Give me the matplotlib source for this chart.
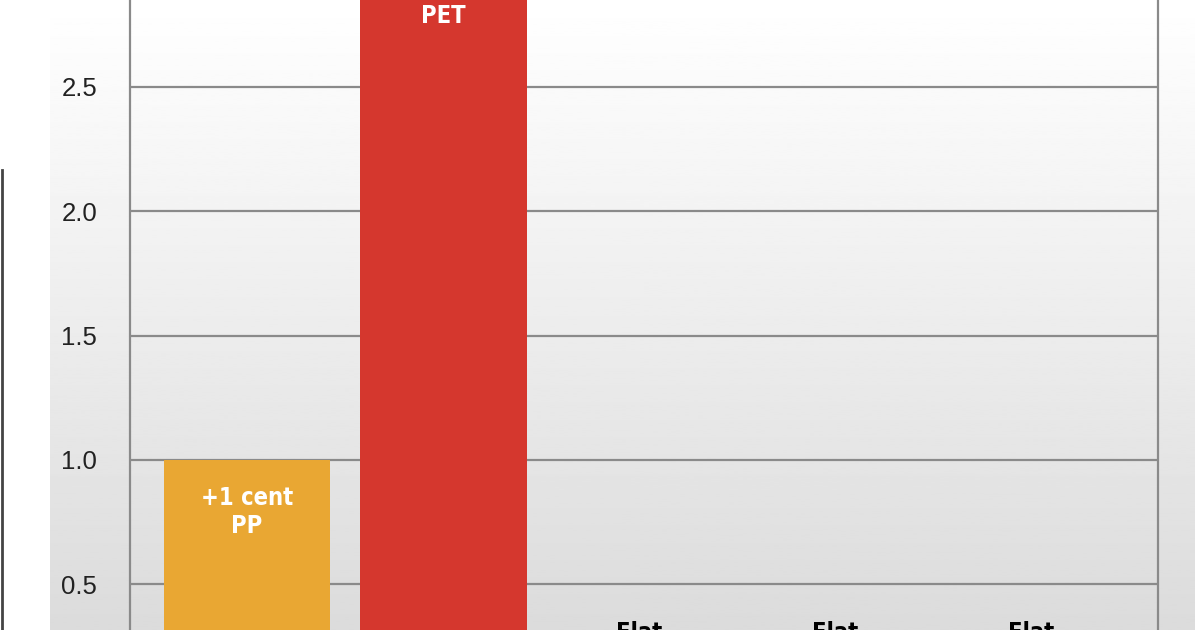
import numpy as np
import matplotlib
matplotlib.use('Agg')
import matplotlib.pyplot as plt
from matplotlib.lines import Line2D

# resin price change, cents per pound
categories = ['PP', 'PET', 'A', 'B', 'C']
values = [1.0, 3.05, 0.0, 0.0, 0.0]
bar_labels = ['+1 cent\nPP', '+3 cents\nPET', 'Flat', 'Flat', 'Flat']
bar_colors = ['#E9A733', '#D5372E', '#D5372E', '#D5372E', '#D5372E']
yticks = [0.5, 1.0, 1.5, 2.0, 2.5]

W, H = 1200, 630
fig = plt.figure(figsize=(W / 100, H / 100), dpi=100)
fig.patch.set_facecolor('white')

# gradient backdrop panel
bg = fig.add_axes([50 / W, 0, 1145 / W, 1])
grad = np.linspace(1.0, 0.86, 256).reshape(-1, 1)
bg.imshow(grad, cmap='gray', vmin=0, vmax=1, aspect='auto', extent=[0, 1, 0, 1], origin='upper')
bg.set_axis_off()

ax = fig.add_axes([130 / W, 0, 1028 / W, 1])
ax.set_facecolor('none')
x = np.arange(len(categories))
bars = ax.bar(x, values, width=0.85, color=bar_colors, zorder=3)

ax.set_xlim(-0.597, 4.645)
ax.set_ylim(0.315, 2.85)
ax.set_yticks(yticks)
ax.set_yticklabels([f'{t:.1f}' for t in yticks], fontsize=18.5,
                   family='Liberation Sans', color='#222222')
ax.tick_params(axis='y', length=0, pad=23.5)
ax.set_xticks([])
ax.grid(axis='y', color='#8a8a8a', linewidth=1.6, zorder=1)

for s in ['top', 'bottom']:
    ax.spines[s].set_visible(False)
for s in ['left', 'right']:
    ax.spines[s].set_color('#8a8a8a')
    ax.spines[s].set_linewidth(1.6)

for xi, v, lab in zip(x, values, bar_labels):
    if v > 0:
        ax.annotate(lab, xy=(xi, v), xytext=(0, -19), textcoords='offset points',
                    ha='center', va='top', color='white', fontsize=17,
                    fontweight='bold', fontstretch='condensed', zorder=4,
                    annotation_clip=False)
    else:
        ax.annotate(lab, xy=(xi, v), xytext=(0, 63), textcoords='offset points',
                    ha='center', va='top', color='black', fontsize=17,
                    fontweight='bold', fontstretch='condensed', zorder=4,
                    annotation_clip=False)

fig.add_artist(Line2D([2 / W, 2 / W], [0, 1 - 170 / H], color='#444444', linewidth=2))

fig.savefig('out.png', dpi=100)
